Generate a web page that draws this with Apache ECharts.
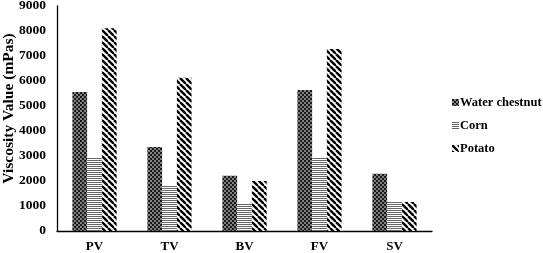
<!DOCTYPE html>
<html><head><meta charset="utf-8">
<script src="https://cdn.jsdelivr.net/npm/echarts@6/dist/echarts.min.js"></script>
<style>html,body{margin:0;padding:0;background:#fff}#c{width:543px;height:253px}</style>
</head><body><div id="c"></div>
<script>
var categories = ['PV', 'TV', 'BV', 'FV', 'SV'];
var waterChestnut = [5560, 3360, 2210, 5640, 2290];
var corn = [2920, 1810, 1090, 2950, 1170];
var potato = [8110, 6130, 2000, 7280, 1160];
var yTicks = [0, 1000, 2000, 3000, 4000, 5000, 6000, 7000, 8000, 9000];

function makeCanvas(w, h, draw) {
  var cv = document.createElement('canvas');
  cv.width = w; cv.height = h;
  draw(cv.getContext('2d'));
  return cv;
}
var checker = makeCanvas(4, 4, function (g) {
  g.fillStyle = '#808080'; g.fillRect(0, 0, 4, 4);
  g.fillStyle = '#1a1a1a'; g.fillRect(0, 0, 2, 2); g.fillRect(2, 2, 2, 2);
});
var hlines = makeCanvas(2, 2, function (g) {
  g.fillStyle = '#ffffff'; g.fillRect(0, 0, 2, 2);
  g.fillStyle = '#666666'; g.fillRect(0, 0, 2, 1);
});
var diag = makeCanvas(6, 6, function (g) {
  g.fillStyle = '#ffffff'; g.fillRect(0, 0, 6, 6);
  g.strokeStyle = '#000000'; g.lineWidth = 2.4;
  for (var k = -12; k <= 12; k += 6) {
    g.beginPath(); g.moveTo(k, 0); g.lineTo(k + 6, 6); g.stroke();
  }
});
function pat(cv) { return { image: cv, repeat: 'repeat' }; }

var font = 'Liberation Serif';
var chart = echarts.init(document.getElementById('c'), null, { renderer: 'canvas' });
chart.setOption({
  animation: false,
  backgroundColor: '#fff',
  grid: { left: 57, right: 111, top: 6, bottom: 22, containLabel: false, outerBoundsMode: 'none' },
  legend: {
    orient: 'vertical', left: 447, top: 91, itemGap: 10,
    itemWidth: 7, itemHeight: 7, icon: 'rect',
    textStyle: { fontFamily: font, fontWeight: 'bold', fontSize: 12.5, color: '#000', padding: [0, 0, 0, -4] },
    data: ['Water chestnut', 'Corn', 'Potato']
  },
  xAxis: {
    type: 'category', data: categories,
    axisLine: { lineStyle: { color: '#000', width: 1.3 } },
    axisTick: { show: false },
    axisLabel: { fontFamily: font, fontWeight: 'bold', fontSize: 13, color: '#000', margin: 9 }
  },
  yAxis: {
    type: 'value', min: 0, max: 9000, interval: 1000,
    name: 'Viscosity Value (mPas)', nameLocation: 'middle', nameGap: 40.5, nameMoveOverlap: false,
    nameTextStyle: { fontFamily: font, fontWeight: 'bold', fontSize: 15.5, color: '#000', padding: [0, 0, 0, 20] },
    axisLine: { show: true, lineStyle: { color: '#000', width: 1.3 } },
    axisTick: { show: false },
    splitLine: { show: false },
    axisLabel: {
      fontFamily: font, fontWeight: 'bold', fontSize: 13.5, color: '#000', margin: 11,
      formatter: function (v) { return yTicks.indexOf(v) >= 0 ? String(v) : ''; }
    }
  },
  series: [
    { name: 'Water chestnut', type: 'bar', data: waterChestnut, barGap: '0%', barCategoryGap: '41%', itemStyle: { color: pat(checker) } },
    { name: 'Corn', type: 'bar', data: corn, itemStyle: { color: pat(hlines) } },
    { name: 'Potato', type: 'bar', data: potato, itemStyle: { color: pat(diag) } }
  ]
});
</script></body></html>
